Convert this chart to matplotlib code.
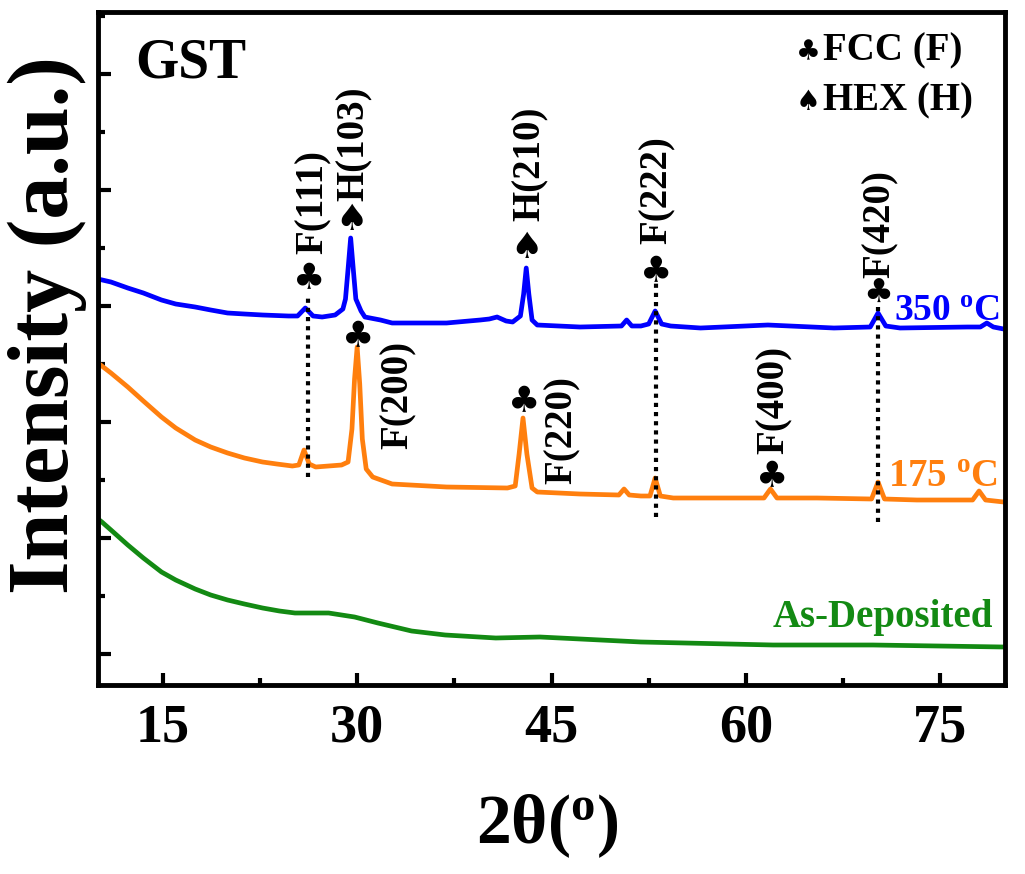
import numpy as np
import matplotlib
matplotlib.use("Agg")
import matplotlib.pyplot as plt
from matplotlib.ticker import MultipleLocator

plt.rcParams['font.family'] = ['Liberation Serif', 'DejaVu Sans']
plt.rcParams['mathtext.default'] = 'regular'

# ---- data (2theta in degrees, intensity in arbitrary units) ----
x_350 = [10.0, 11.0, 12.3, 13.5, 14.9, 16.0, 17.5, 18.7, 20.0, 21.3, 22.7, 23.7, 24.7,
         25.4, 26.0, 26.6, 27.3, 28.3, 28.9, 29.1, 29.3, 29.5, 29.7, 29.9, 30.3, 30.6,
         31.8, 32.7, 36.9, 39.5, 40.2, 40.8, 41.5, 42.0, 42.6, 42.85, 43.05, 43.25, 43.5,
         43.9, 47.2, 50.4, 50.8, 51.2, 51.9, 52.5, 53.0, 53.5, 54.2, 56.5, 61.7, 66.8,
         69.6, 70.2, 70.8, 71.9, 77.1, 78.1, 78.6, 79.1, 79.9]
y_350 = [375, 372, 366, 361, 354, 350, 347, 344, 341, 340, 339, 338.5, 338,
         338, 346, 338, 337, 339, 345, 355, 385, 416, 385, 355, 343, 337,
         334, 331, 331, 334, 335, 337, 333, 332, 338, 360, 386, 360, 334,
         329, 327, 328, 334, 328, 328, 330, 343, 330, 328, 326, 329, 326,
         327, 341, 328, 326, 327, 327, 331, 327, 325]

x_175 = [10.0, 11.0, 12.3, 13.5, 14.9, 16.0, 17.5, 18.7, 20.0, 21.3, 22.7, 23.8, 25.0,
         25.5, 25.9, 26.3, 26.8, 28.8, 29.3, 29.6, 29.8, 30.0, 30.2, 30.4, 30.7, 31.2,
         32.7, 36.9, 41.6, 42.2, 42.5, 42.8, 43.1, 43.5, 43.9, 47.2, 50.2, 50.6, 51.0,
         51.9, 52.6, 53.0, 53.4, 54.4, 56.5, 61.4, 61.9, 62.4, 65.5, 69.7, 70.2, 70.7,
         73.2, 77.5, 78.0, 78.5, 79.9]
y_175 = [291, 281, 267, 253, 237, 226, 214, 207, 201, 196, 192, 190, 188,
         189, 204, 190, 187, 189, 192, 225, 275, 307, 270, 215, 185, 177,
         170, 167, 166, 168, 200, 236, 200, 166, 162, 160, 159, 165, 159,
         158, 158, 176, 158, 156, 156, 156, 165, 156, 156, 155, 172, 155,
         154, 154, 163, 154, 152]

x_asdep = [10.0, 10.3, 11.0, 12.3, 13.5, 14.9, 16.0, 17.5, 18.7, 20.0, 21.3, 22.7, 24.0,
           25.2, 27.8, 29.8, 31.6, 34.2, 36.8, 40.7, 44.1, 51.9, 62.1, 69.8, 79.9]
y_asdep = [135, 132, 124, 109, 96, 82, 74, 65, 59, 54, 50, 46, 43,
           41, 41, 37, 31, 23, 19, 16, 17, 12, 9, 9, 7]

series_labels = ['350 $^{o}$C', '175 $^{o}$C', 'As-Deposited']
series_colors = ['#0000ff', '#ff7f0e', '#138a13']

# dotted guide lines: (2theta, top, bottom)
guide_x = [26.2, 53.1, 70.2]
guide_top = [357, 374, 351]
guide_bottom = [177, 137, 132]

# peak annotations
club, spade = '\u2663', '\u2660'
peak_labels = ['F(111)', 'H(103)', 'H(210)', 'F(222)', 'F(420)', 'F(200)', 'F(220)', 'F(400)']
peak_sym = [club, spade, spade, club, club, club, club, club]
peak_sym_x = [26.3, 29.6, 43.1, 53.1, 70.25, 30.1, 42.9, 62.0]
peak_sym_y = [375, 434, 406, 382, 361, 317, 252, 177]
peak_sym_size = [26, 26, 26, 26, 24, 26, 26, 26]
peak_txt_x = [26.6, 29.8, 43.4, 53.2, 70.4, 33.2, 45.8, 62.2]
peak_txt_y = [400, 453, 433, 410, 376, 259, 224, 200]
peak_txt_va = ['bottom', 'bottom', 'bottom', 'bottom', 'bottom', 'center', 'center', 'bottom']

# ---- figure ----
fig = plt.figure(figsize=(10.25, 8.74), dpi=100)
ax = fig.add_axes([98/1025, (874-685)/874, (1005-98)/1025, (685-12)/874])

lw = 3.4
ax.plot(x_350, y_350, color=series_colors[0], lw=lw, solid_joinstyle='round')
ax.plot(x_175, y_175, color=series_colors[1], lw=lw, solid_joinstyle='round')
ax.plot(x_asdep, y_asdep, color=series_colors[2], lw=lw, solid_joinstyle='round')

for gx, gt, gb in zip(guide_x, guide_top, guide_bottom):
    ax.plot([gx, gx], [gb, gt], color='black', lw=3, linestyle=(0, (1, 1.2)))

for lab, sym, sx, sy, ss, tx, ty, va in zip(peak_labels, peak_sym, peak_sym_x, peak_sym_y,
                                            peak_sym_size, peak_txt_x, peak_txt_y, peak_txt_va):
    ax.text(sx, sy, sym, family='DejaVu Sans', fontsize=ss, ha='center', va='center')
    ax.text(tx, ty, lab, rotation=90, fontsize=28, fontweight='bold', ha='center', va=va)

# series labels
ax.text(79.65, 333, series_labels[0], color=series_colors[0], fontsize=27,
        fontweight='bold', ha='right', va='baseline')
ax.text(79.46, 167, series_labels[1], color=series_colors[1], fontsize=28,
        fontweight='bold', ha='right', va='baseline')
ax.text(79.07, 27, series_labels[2], color=series_colors[2], fontsize=28,
        fontweight='bold', ha='right', va='baseline')

# GST + phase key
ax.text(0.041, 0.924, 'GST', transform=ax.transAxes, fontsize=40, fontweight='bold',
        ha='left', va='center')
ax.text(0.783, 0.940, club, transform=ax.transAxes, family='DejaVu Sans', fontsize=20,
        ha='center', va='center')
ax.text(0.799, 0.942, 'FCC (F)', transform=ax.transAxes, fontsize=28, fontweight='bold',
        ha='left', va='center')
ax.text(0.783, 0.866, spade, transform=ax.transAxes, family='DejaVu Sans', fontsize=20,
        ha='center', va='center')
ax.text(0.799, 0.868, 'HEX (H)', transform=ax.transAxes, fontsize=28, fontweight='bold',
        ha='left', va='center')

ax.set_xlim(10, 80)
ax.set_ylim(-31, 642)
ax.set_xticks([15, 30, 45, 60, 75])
ax.xaxis.set_minor_locator(MultipleLocator(7.5))
ax.yaxis.set_major_locator(MultipleLocator(116))
ax.yaxis.set_minor_locator(MultipleLocator(58))
ax.set_yticklabels([])
ax.tick_params(axis='both', which='major', direction='in', length=9, width=3)
ax.tick_params(axis='both', which='minor', direction='in', length=5, width=3)
ax.tick_params(axis='x', which='major', pad=13, labelsize=39)
for lbl in ax.get_xticklabels():
    lbl.set_fontweight('bold')
for sp in ax.spines.values():
    sp.set_linewidth(3.5)

fig.text(0.046, (874-325)/874, 'Intensity (a.u.)', rotation=90, fontsize=62,
         fontweight='bold', ha='center', va='center')
fig.text(547/1025, (874-826)/874, '2θ($^{o}$)', fontsize=50, fontweight='bold',
         ha='center', va='center')

fig.savefig('out.png', dpi=100)
